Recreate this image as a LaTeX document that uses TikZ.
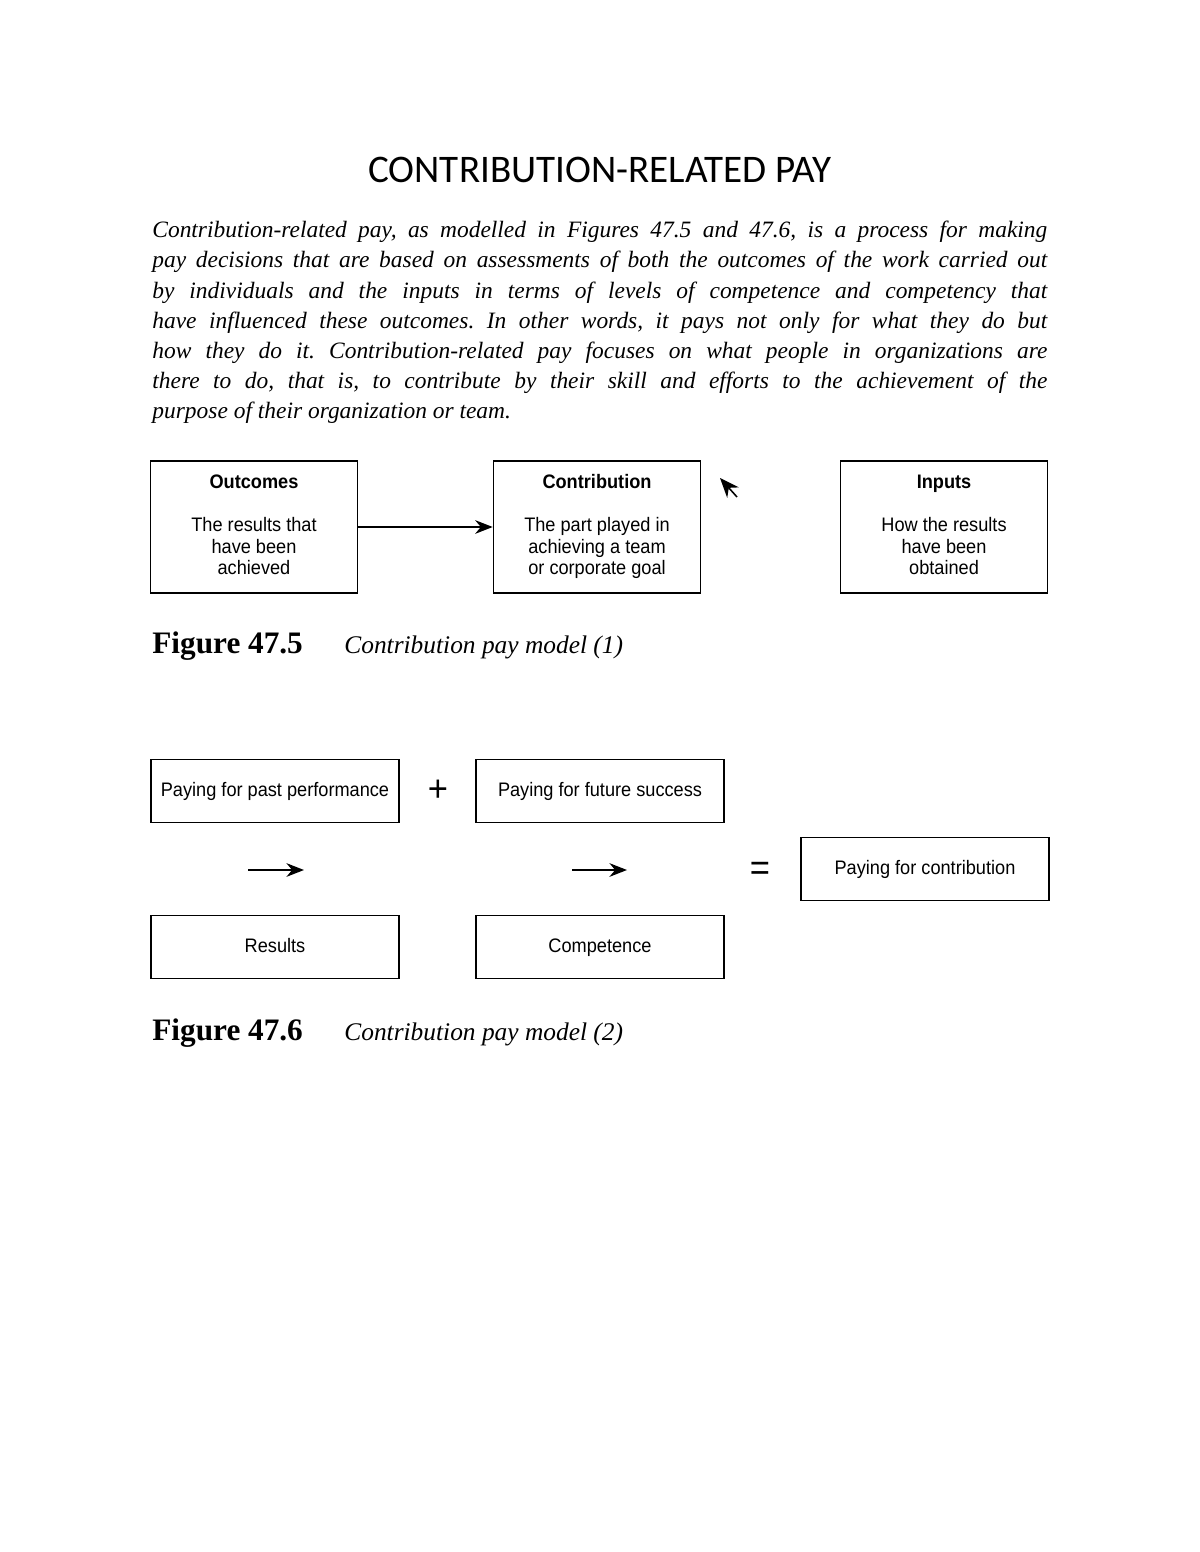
\documentclass[tikz,border=0pt]{standalone}
\usepackage{fontspec}
\usetikzlibrary{arrows.meta}
\setmainfont{Liberation Serif}
\newfontfamily\titleFont{Carlito}
\newfontfamily\boxFont[FakeStretch=0.93]{Liberation Sans}
\newcommand{\pxUnit}[0]{0.0179917cm}
\newcommand{\boxLine}[0]{0.8pt}
\newcommand{\tipOne}[0]{Stealth[length=9pt,width=7pt]}
\frenchspacing

\begin{document}
\begin{tikzpicture}[x=\pxUnit, y=-\pxUnit]
  \tikzset{every node/.style={inner sep=0pt},
    bigbox/.style={draw, line width=\boxLine, minimum width=3.724cm, minimum height=2.375cm,
      align=center, font=\boxFont\fontsize{10}{10.8}\selectfont},
    smallbox/.style={draw, line width=\boxLine, minimum width=4.462cm, minimum height=1.133cm,
      align=center, text height=7.3pt, text depth=1.5pt, font=\boxFont\fontsize{10}{11}\selectfont},
    sign/.style={font=\boxFont\fontsize{19}{22}\selectfont},
    conn/.style={line width=\boxLine, -{\tipOne}}}
  \fill[white] (0,0) rectangle (1200,1552);
  \useasboundingbox (0,0) rectangle (1200,1552);
  \node[font=\titleFont\fontsize{20}{24}\selectfont] (Title) at (600,170) {CONTRIBUTION-RELATED PAY};
  \node[anchor=north west, text width=16.10cm, align=justify,
    font=\itshape\fontsize{12}{15.4}\selectfont] (Body) at (152,221)
    {Contribution-related pay, as modelled in Figures 47.5 and 47.6, is a process for making\linebreak
     pay decisions that are based on assessments of both the outcomes of the work carried out\linebreak
     by individuals and the inputs in terms of levels of competence and competency that\linebreak
     have influenced these outcomes. In other words, it pays not only for what they do but\linebreak
     how they do it. Contribution-related pay focuses on what people in organizations are\linebreak
     there to do, that is, to contribute by their skill and efforts to the achievement of the\linebreak
     purpose of their organization or team.};
  \node[bigbox] (Outcomes-1) at (254,527) {\strut\textbf{Outcomes}\\[11.5pt]The results that\\have been\\achieved\strut};
  \node[bigbox] (Contribution-1) at (597,527) {\strut\textbf{Contribution}\\[11.5pt]The part played in\\achieving a team\\or corporate goal\strut};
  \node[bigbox] (Inputs-1) at (944,527) {\strut\textbf{Inputs}\\[11.5pt]How the results\\have been\\obtained\strut};
  \coordinate (Stray-a) at (737,497);
  \coordinate (Stray-b) at (720,478);
  \draw[conn] (Outcomes-1) -- (Contribution-1);
  \draw[line width=\boxLine, -{Stealth[length=10pt,width=8pt]}] (Stray-a) -- (Stray-b);
  \node[anchor=base west, font=\bfseries\fontsize{16}{19}\selectfont] (Fig-1) at (152,653) {Figure 47.5};
  \node[anchor=base west, font=\itshape\fontsize{13}{16}\selectfont] (Caption-1) at (344,653) {Contribution pay model (1)};
  \node[smallbox] (Past-2) at (275,791) {Paying for past performance};
  \node[sign] (Plus-2) at (438,791) {+};
  \node[smallbox] (Future-2) at (600,791) {Paying for future success};
  \coordinate (Arrow-a-1) at (248,870);
  \coordinate (Arrow-b-1) at (304,870);
  \coordinate (Arrow-a-2) at (572,870);
  \coordinate (Arrow-b-2) at (627,870);
  \draw[conn] (Arrow-a-1) -- (Arrow-b-1);
  \draw[conn] (Arrow-a-2) -- (Arrow-b-2);
  \node[sign] (Equals-2) at (760,871) {=};
  \node[smallbox] (Sum-2) at (925,869) {Paying for contribution};
  \node[smallbox] (Results-2) at (275,947) {Results};
  \node[smallbox] (Competence-2) at (600,947) {Competence};
  \node[anchor=base west, font=\bfseries\fontsize{16}{19}\selectfont] (Fig-2) at (152,1040) {Figure 47.6};
  \node[anchor=base west, font=\itshape\fontsize{13}{16}\selectfont] (Caption-2) at (344,1040) {Contribution pay model (2)};
\end{tikzpicture}
\end{document}
